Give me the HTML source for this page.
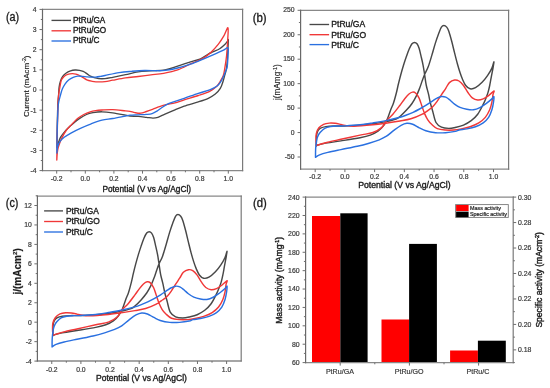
<!DOCTYPE html>
<html><head><meta charset="utf-8"><style>
html,body{margin:0;padding:0;background:#fff;}
body{width:550px;height:388px;overflow:hidden;}
svg{display:block;font-family:"Liberation Sans",sans-serif;filter:blur(0.35px);}
.t{stroke-width:0.35px;}
.k{stroke-width:0.2px;}
.h{stroke-width:0.4px;}
.m{stroke-width:0.15px;}
</style></head><body>
<svg width="550" height="388" viewBox="0 0 550 388">
<rect width="550" height="388" fill="#fff"/>
<line x1="41.9" y1="9.4" x2="243.2" y2="9.4" stroke="#888888" stroke-width="1.3"/>
<line x1="41.9" y1="170.6" x2="243.2" y2="170.6" stroke="#888888" stroke-width="1.3"/>
<line x1="42.5" y1="8.8" x2="42.5" y2="171.2" stroke="#686868" stroke-width="1.2"/>
<line x1="242.6" y1="8.8" x2="242.6" y2="171.2" stroke="#7a7a7a" stroke-width="1.2"/>
<line x1="56.70" y1="170.6" x2="56.70" y2="173.6" stroke="#6e6e6e" stroke-width="1"/>
<line x1="85.30" y1="170.6" x2="85.30" y2="173.6" stroke="#6e6e6e" stroke-width="1"/>
<line x1="113.90" y1="170.6" x2="113.90" y2="173.6" stroke="#6e6e6e" stroke-width="1"/>
<line x1="142.50" y1="170.6" x2="142.50" y2="173.6" stroke="#6e6e6e" stroke-width="1"/>
<line x1="171.10" y1="170.6" x2="171.10" y2="173.6" stroke="#6e6e6e" stroke-width="1"/>
<line x1="199.70" y1="170.6" x2="199.70" y2="173.6" stroke="#6e6e6e" stroke-width="1"/>
<line x1="228.30" y1="170.6" x2="228.30" y2="173.6" stroke="#6e6e6e" stroke-width="1"/>
<line x1="71.00" y1="170.6" x2="71.00" y2="172.29999999999998" stroke="#6e6e6e" stroke-width="1"/>
<line x1="99.60" y1="170.6" x2="99.60" y2="172.29999999999998" stroke="#6e6e6e" stroke-width="1"/>
<line x1="128.20" y1="170.6" x2="128.20" y2="172.29999999999998" stroke="#6e6e6e" stroke-width="1"/>
<line x1="156.80" y1="170.6" x2="156.80" y2="172.29999999999998" stroke="#6e6e6e" stroke-width="1"/>
<line x1="185.40" y1="170.6" x2="185.40" y2="172.29999999999998" stroke="#6e6e6e" stroke-width="1"/>
<line x1="214.00" y1="170.6" x2="214.00" y2="172.29999999999998" stroke="#6e6e6e" stroke-width="1"/>
<text x="56.70" y="180.9" font-size="6.8" text-anchor="middle" fill="#3a3a3a" stroke="#3a3a3a" class="k">-0.2</text>
<text x="85.30" y="180.9" font-size="6.8" text-anchor="middle" fill="#3a3a3a" stroke="#3a3a3a" class="k">0.0</text>
<text x="113.90" y="180.9" font-size="6.8" text-anchor="middle" fill="#3a3a3a" stroke="#3a3a3a" class="k">0.2</text>
<text x="142.50" y="180.9" font-size="6.8" text-anchor="middle" fill="#3a3a3a" stroke="#3a3a3a" class="k">0.4</text>
<text x="171.10" y="180.9" font-size="6.8" text-anchor="middle" fill="#3a3a3a" stroke="#3a3a3a" class="k">0.6</text>
<text x="199.70" y="180.9" font-size="6.8" text-anchor="middle" fill="#3a3a3a" stroke="#3a3a3a" class="k">0.8</text>
<text x="228.30" y="180.9" font-size="6.8" text-anchor="middle" fill="#3a3a3a" stroke="#3a3a3a" class="k">1.0</text>
<line x1="42.5" y1="9.40" x2="39.5" y2="9.40" stroke="#6e6e6e" stroke-width="1"/>
<line x1="42.5" y1="29.55" x2="39.5" y2="29.55" stroke="#6e6e6e" stroke-width="1"/>
<line x1="42.5" y1="49.70" x2="39.5" y2="49.70" stroke="#6e6e6e" stroke-width="1"/>
<line x1="42.5" y1="69.85" x2="39.5" y2="69.85" stroke="#6e6e6e" stroke-width="1"/>
<line x1="42.5" y1="90.00" x2="39.5" y2="90.00" stroke="#6e6e6e" stroke-width="1"/>
<line x1="42.5" y1="110.15" x2="39.5" y2="110.15" stroke="#6e6e6e" stroke-width="1"/>
<line x1="42.5" y1="130.30" x2="39.5" y2="130.30" stroke="#6e6e6e" stroke-width="1"/>
<line x1="42.5" y1="150.45" x2="39.5" y2="150.45" stroke="#6e6e6e" stroke-width="1"/>
<line x1="42.5" y1="170.60" x2="39.5" y2="170.60" stroke="#6e6e6e" stroke-width="1"/>
<line x1="42.5" y1="19.48" x2="40.8" y2="19.48" stroke="#6e6e6e" stroke-width="1"/>
<line x1="42.5" y1="39.62" x2="40.8" y2="39.62" stroke="#6e6e6e" stroke-width="1"/>
<line x1="42.5" y1="59.78" x2="40.8" y2="59.78" stroke="#6e6e6e" stroke-width="1"/>
<line x1="42.5" y1="79.92" x2="40.8" y2="79.92" stroke="#6e6e6e" stroke-width="1"/>
<line x1="42.5" y1="100.08" x2="40.8" y2="100.08" stroke="#6e6e6e" stroke-width="1"/>
<line x1="42.5" y1="120.22" x2="40.8" y2="120.22" stroke="#6e6e6e" stroke-width="1"/>
<line x1="42.5" y1="140.38" x2="40.8" y2="140.38" stroke="#6e6e6e" stroke-width="1"/>
<line x1="42.5" y1="160.52" x2="40.8" y2="160.52" stroke="#6e6e6e" stroke-width="1"/>
<text x="36.5" y="11.85" font-size="6.8" text-anchor="end" fill="#3a3a3a" stroke="#3a3a3a" class="k">4</text>
<text x="36.5" y="32.00" font-size="6.8" text-anchor="end" fill="#3a3a3a" stroke="#3a3a3a" class="k">3</text>
<text x="36.5" y="52.15" font-size="6.8" text-anchor="end" fill="#3a3a3a" stroke="#3a3a3a" class="k">2</text>
<text x="36.5" y="72.30" font-size="6.8" text-anchor="end" fill="#3a3a3a" stroke="#3a3a3a" class="k">1</text>
<text x="36.5" y="92.45" font-size="6.8" text-anchor="end" fill="#3a3a3a" stroke="#3a3a3a" class="k">0</text>
<text x="36.5" y="112.60" font-size="6.8" text-anchor="end" fill="#3a3a3a" stroke="#3a3a3a" class="k">-1</text>
<text x="36.5" y="132.75" font-size="6.8" text-anchor="end" fill="#3a3a3a" stroke="#3a3a3a" class="k">-2</text>
<text x="36.5" y="152.90" font-size="6.8" text-anchor="end" fill="#3a3a3a" stroke="#3a3a3a" class="k">-3</text>
<text x="36.5" y="173.05" font-size="6.8" text-anchor="end" fill="#3a3a3a" stroke="#3a3a3a" class="k">-4</text>
<text x="102.4" y="191.9" font-size="8.2" fill="#1c1c1c" stroke="#1c1c1c" class="t" textLength="88.6" lengthAdjust="spacingAndGlyphs">Potential (V vs Ag/AgCl)</text>
<text transform="translate(28.5,117) rotate(-90)" font-size="8" fill="#1c1c1c" stroke="#1c1c1c" class="m">Current (mAcm<tspan font-size="5.2" dy="-3">-2</tspan><tspan dy="3">)</tspan></text>
<text x="5.9" y="21.0" font-size="12.3" textLength="13.2" lengthAdjust="spacingAndGlyphs" fill="#1c1c1c" stroke="#1c1c1c" class="t">(a)</text>
<path d="M56.90,147.60 C56.97,143.83 57.15,132.10 57.30,125.00 C57.45,117.90 57.58,110.00 57.80,105.00 C58.02,100.00 58.38,97.95 58.60,95.00 C58.82,92.05 58.78,89.65 59.10,87.30 C59.42,84.95 59.90,82.72 60.50,80.90 C61.10,79.08 61.80,77.68 62.70,76.40 C63.60,75.12 64.60,74.12 65.90,73.20 C67.20,72.28 68.98,71.43 70.50,70.90 C72.02,70.37 73.50,70.10 75.00,70.00 C76.50,69.90 78.13,70.07 79.50,70.30 C80.87,70.53 81.98,70.85 83.20,71.40 C84.42,71.95 85.58,72.80 86.80,73.60 C88.02,74.40 89.28,75.52 90.50,76.20 C91.72,76.88 92.75,77.30 94.10,77.70 C95.45,78.10 96.78,78.45 98.60,78.60 C100.42,78.75 102.65,78.82 105.00,78.60 C107.35,78.38 109.28,77.95 112.70,77.30 C116.12,76.65 121.25,75.60 125.50,74.70 C129.75,73.80 134.12,72.53 138.20,71.90 C142.28,71.27 145.53,71.23 150.00,70.90 C154.47,70.57 160.38,70.70 165.00,69.90 C169.62,69.10 173.45,67.43 177.70,66.10 C181.95,64.77 186.68,63.12 190.50,61.90 C194.32,60.68 197.63,60.12 200.60,58.80 C203.57,57.48 206.17,55.18 208.30,54.00 C210.43,52.82 211.50,52.58 213.40,51.70 C215.30,50.82 217.80,49.90 219.70,48.70 C221.60,47.50 223.52,45.73 224.80,44.50 C226.08,43.27 226.82,42.07 227.40,41.30 C227.98,40.53 228.22,38.45 228.30,39.90 C228.38,41.35 228.08,46.32 227.90,50.00 C227.72,53.68 227.48,58.67 227.20,62.00 C226.92,65.33 226.57,67.95 226.20,70.00 C225.83,72.05 225.52,72.42 225.00,74.30 C224.48,76.18 223.88,78.95 223.10,81.30 C222.32,83.65 221.60,86.27 220.30,88.40 C219.00,90.53 217.30,92.45 215.30,94.10 C213.30,95.75 211.13,97.00 208.30,98.30 C205.47,99.60 202.32,100.60 198.30,101.90 C194.28,103.20 188.08,104.77 184.20,106.10 C180.32,107.43 177.33,108.93 175.00,109.90 C172.67,110.87 171.97,111.15 170.20,111.90 C168.43,112.65 166.45,113.50 164.40,114.40 C162.35,115.30 159.80,116.68 157.90,117.30 C156.00,117.92 154.92,118.10 153.00,118.10 C151.08,118.10 148.87,117.58 146.40,117.30 C143.93,117.02 140.93,116.62 138.20,116.40 C135.47,116.18 132.12,116.22 130.00,116.00 C127.88,115.78 128.38,115.63 125.50,115.10 C122.62,114.57 116.62,113.35 112.70,112.80 C108.78,112.25 105.30,111.82 102.00,111.80 C98.70,111.78 95.48,112.25 92.90,112.70 C90.32,113.15 88.77,113.52 86.50,114.50 C84.23,115.48 81.42,117.18 79.30,118.60 C77.18,120.02 75.27,121.82 73.80,123.00 C72.33,124.18 71.88,124.42 70.50,125.70 C69.12,126.98 67.15,128.78 65.50,130.70 C63.85,132.62 61.87,134.90 60.60,137.20 C59.33,139.50 58.52,142.77 57.90,144.50 C57.28,146.23 57.07,147.08 56.90,147.60" fill="none" stroke="#484848" stroke-width="1.35" stroke-linejoin="round" stroke-linecap="round"/>
<path d="M56.80,160.00 C56.85,156.67 56.97,147.00 57.10,140.00 C57.23,133.00 57.45,124.00 57.60,118.00 C57.75,112.00 57.83,107.83 58.00,104.00 C58.17,100.17 58.27,97.93 58.60,95.00 C58.93,92.07 59.53,88.90 60.00,86.40 C60.47,83.90 60.72,81.67 61.40,80.00 C62.08,78.33 63.05,77.33 64.10,76.40 C65.15,75.47 66.33,74.87 67.70,74.40 C69.07,73.93 70.93,73.65 72.30,73.60 C73.67,73.55 74.70,73.78 75.90,74.10 C77.10,74.42 78.28,74.90 79.50,75.50 C80.72,76.10 81.98,76.98 83.20,77.70 C84.42,78.42 85.43,79.23 86.80,79.80 C88.17,80.37 89.88,80.77 91.40,81.10 C92.92,81.43 93.63,81.72 95.90,81.80 C98.17,81.88 102.20,81.87 105.00,81.60 C107.80,81.33 109.28,80.82 112.70,80.20 C116.12,79.58 121.25,78.52 125.50,77.90 C129.75,77.28 133.97,77.00 138.20,76.50 C142.43,76.00 146.67,75.43 150.90,74.90 C155.13,74.37 159.13,74.13 163.60,73.30 C168.07,72.47 173.22,71.47 177.70,69.90 C182.18,68.33 187.27,65.37 190.50,63.90 C193.73,62.43 194.82,62.15 197.10,61.10 C199.38,60.05 201.83,59.13 204.20,57.60 C206.57,56.07 208.93,54.15 211.30,51.90 C213.67,49.65 216.28,46.82 218.40,44.10 C220.52,41.38 222.40,38.32 224.00,35.60 C225.60,32.88 227.40,26.85 228.00,27.80 C228.60,28.75 227.83,36.68 227.60,41.30 C227.37,45.92 227.07,51.02 226.60,55.50 C226.13,59.98 225.35,64.87 224.80,68.20 C224.25,71.53 224.05,73.32 223.30,75.50 C222.55,77.68 221.38,79.50 220.30,81.30 C219.22,83.10 218.57,84.63 216.80,86.30 C215.03,87.97 212.78,89.77 209.70,91.30 C206.62,92.83 202.55,94.08 198.30,95.50 C194.05,96.92 188.08,98.57 184.20,99.80 C180.32,101.03 178.02,102.10 175.00,102.90 C171.98,103.70 168.68,103.98 166.10,104.60 C163.52,105.22 161.68,105.85 159.50,106.60 C157.32,107.35 155.18,108.28 153.00,109.10 C150.82,109.92 148.45,110.82 146.40,111.50 C144.35,112.18 142.62,113.02 140.70,113.20 C138.78,113.38 136.68,112.92 134.90,112.60 C133.12,112.28 131.57,111.58 130.00,111.30 C128.43,111.02 128.38,111.18 125.50,110.90 C122.62,110.62 116.62,109.75 112.70,109.60 C108.78,109.45 104.85,109.83 102.00,110.00 C99.15,110.17 97.57,110.30 95.60,110.60 C93.63,110.90 92.17,111.15 90.20,111.80 C88.23,112.45 85.92,113.37 83.80,114.50 C81.68,115.63 79.47,117.00 77.50,118.60 C75.53,120.20 73.83,122.20 72.00,124.10 C70.17,126.00 68.25,127.58 66.50,130.00 C64.75,132.42 62.88,135.67 61.50,138.60 C60.12,141.53 58.92,145.03 58.20,147.60 C57.48,150.17 57.43,151.93 57.20,154.00 C56.97,156.07 56.87,159.00 56.80,160.00" fill="none" stroke="#f03838" stroke-width="1.35" stroke-linejoin="round" stroke-linecap="round"/>
<path d="M56.90,153.00 C56.93,150.00 56.98,140.83 57.10,135.00 C57.22,129.17 57.38,123.17 57.60,118.00 C57.82,112.83 57.92,107.83 58.40,104.00 C58.88,100.17 59.85,97.48 60.50,95.00 C61.15,92.52 61.55,90.92 62.30,89.10 C63.05,87.28 63.95,85.62 65.00,84.10 C66.05,82.58 67.23,81.13 68.60,80.00 C69.97,78.87 71.68,77.93 73.20,77.30 C74.72,76.67 76.18,76.35 77.70,76.20 C79.22,76.05 80.78,76.30 82.30,76.40 C83.82,76.50 85.28,76.68 86.80,76.80 C88.32,76.92 89.88,77.05 91.40,77.10 C92.92,77.15 94.38,77.22 95.90,77.10 C97.42,76.98 98.98,76.67 100.50,76.40 C102.02,76.13 101.90,76.13 105.00,75.50 C108.10,74.87 114.63,73.30 119.10,72.60 C123.57,71.90 127.57,71.65 131.80,71.30 C136.03,70.95 140.25,70.60 144.50,70.50 C148.75,70.40 153.88,70.72 157.30,70.70 C160.72,70.68 161.60,70.85 165.00,70.40 C168.40,69.95 173.45,69.03 177.70,68.00 C181.95,66.97 186.25,65.68 190.50,64.20 C194.75,62.72 198.97,60.85 203.20,59.10 C207.43,57.35 212.52,55.18 215.90,53.70 C219.28,52.22 221.48,51.17 223.50,50.20 C225.52,49.23 227.25,47.02 228.00,47.90 C228.75,48.78 228.13,52.35 228.00,55.50 C227.87,58.65 227.65,64.05 227.20,66.80 C226.75,69.55 225.87,70.52 225.30,72.00 C224.73,73.48 224.52,74.15 223.80,75.70 C223.08,77.25 222.17,79.53 221.00,81.30 C219.83,83.07 218.68,84.88 216.80,86.30 C214.92,87.72 212.78,88.62 209.70,89.80 C206.62,90.98 202.55,91.98 198.30,93.40 C194.05,94.82 188.08,96.98 184.20,98.30 C180.32,99.62 177.62,100.40 175.00,101.30 C172.38,102.20 170.53,102.75 168.50,103.70 C166.47,104.65 164.72,105.77 162.80,107.00 C160.88,108.23 158.78,110.00 157.00,111.10 C155.22,112.20 153.87,113.05 152.10,113.60 C150.33,114.15 148.72,114.20 146.40,114.40 C144.08,114.60 140.93,114.67 138.20,114.80 C135.47,114.93 132.12,115.00 130.00,115.20 C127.88,115.40 128.38,115.45 125.50,116.00 C122.62,116.55 116.62,117.80 112.70,118.50 C108.78,119.20 105.58,119.32 102.00,120.20 C98.42,121.08 94.80,122.45 91.20,123.80 C87.60,125.15 83.70,126.80 80.40,128.30 C77.10,129.80 74.10,131.30 71.40,132.80 C68.70,134.30 66.15,135.80 64.20,137.30 C62.25,138.80 60.80,140.27 59.70,141.80 C58.60,143.33 58.07,144.63 57.60,146.50 C57.13,148.37 57.02,151.92 56.90,153.00" fill="none" stroke="#2a70e0" stroke-width="1.35" stroke-linejoin="round" stroke-linecap="round"/>
<line x1="51.5" y1="20.4" x2="71" y2="20.4" stroke="#484848" stroke-width="1.35"/>
<text x="73" y="22.9" font-size="8.2" fill="#1c1c1c" stroke="#1c1c1c" class="t">PtRu/GA</text>
<line x1="51.5" y1="30.8" x2="71" y2="30.8" stroke="#f03838" stroke-width="1.35"/>
<text x="73" y="33.1" font-size="8.2" fill="#1c1c1c" stroke="#1c1c1c" class="t">PtRu/GO</text>
<line x1="51.5" y1="41.0" x2="71" y2="41.0" stroke="#2a70e0" stroke-width="1.35"/>
<text x="73" y="43.4" font-size="8.2" fill="#1c1c1c" stroke="#1c1c1c" class="t">PtRu/C</text>
<line x1="300.0" y1="10.3" x2="509.20000000000005" y2="10.3" stroke="#888888" stroke-width="1.3"/>
<line x1="300.0" y1="169.1" x2="509.20000000000005" y2="169.1" stroke="#888888" stroke-width="1.3"/>
<line x1="300.6" y1="9.700000000000001" x2="300.6" y2="169.7" stroke="#686868" stroke-width="1.2"/>
<line x1="508.6" y1="9.700000000000001" x2="508.6" y2="169.7" stroke="#7a7a7a" stroke-width="1.2"/>
<line x1="315.18" y1="169.1" x2="315.18" y2="172.1" stroke="#6e6e6e" stroke-width="1"/>
<line x1="344.90" y1="169.1" x2="344.90" y2="172.1" stroke="#6e6e6e" stroke-width="1"/>
<line x1="374.62" y1="169.1" x2="374.62" y2="172.1" stroke="#6e6e6e" stroke-width="1"/>
<line x1="404.34" y1="169.1" x2="404.34" y2="172.1" stroke="#6e6e6e" stroke-width="1"/>
<line x1="434.06" y1="169.1" x2="434.06" y2="172.1" stroke="#6e6e6e" stroke-width="1"/>
<line x1="463.78" y1="169.1" x2="463.78" y2="172.1" stroke="#6e6e6e" stroke-width="1"/>
<line x1="493.50" y1="169.1" x2="493.50" y2="172.1" stroke="#6e6e6e" stroke-width="1"/>
<line x1="330.04" y1="169.1" x2="330.04" y2="170.79999999999998" stroke="#6e6e6e" stroke-width="1"/>
<line x1="359.76" y1="169.1" x2="359.76" y2="170.79999999999998" stroke="#6e6e6e" stroke-width="1"/>
<line x1="389.48" y1="169.1" x2="389.48" y2="170.79999999999998" stroke="#6e6e6e" stroke-width="1"/>
<line x1="419.20" y1="169.1" x2="419.20" y2="170.79999999999998" stroke="#6e6e6e" stroke-width="1"/>
<line x1="448.92" y1="169.1" x2="448.92" y2="170.79999999999998" stroke="#6e6e6e" stroke-width="1"/>
<line x1="478.64" y1="169.1" x2="478.64" y2="170.79999999999998" stroke="#6e6e6e" stroke-width="1"/>
<text x="315.18" y="179.4" font-size="6.8" text-anchor="middle" fill="#3a3a3a" stroke="#3a3a3a" class="k">-0.2</text>
<text x="344.90" y="179.4" font-size="6.8" text-anchor="middle" fill="#3a3a3a" stroke="#3a3a3a" class="k">0.0</text>
<text x="374.62" y="179.4" font-size="6.8" text-anchor="middle" fill="#3a3a3a" stroke="#3a3a3a" class="k">0.2</text>
<text x="404.34" y="179.4" font-size="6.8" text-anchor="middle" fill="#3a3a3a" stroke="#3a3a3a" class="k">0.4</text>
<text x="434.06" y="179.4" font-size="6.8" text-anchor="middle" fill="#3a3a3a" stroke="#3a3a3a" class="k">0.6</text>
<text x="463.78" y="179.4" font-size="6.8" text-anchor="middle" fill="#3a3a3a" stroke="#3a3a3a" class="k">0.8</text>
<text x="493.50" y="179.4" font-size="6.8" text-anchor="middle" fill="#3a3a3a" stroke="#3a3a3a" class="k">1.0</text>
<line x1="300.6" y1="10.30" x2="297.6" y2="10.30" stroke="#6e6e6e" stroke-width="1"/>
<line x1="300.6" y1="34.75" x2="297.6" y2="34.75" stroke="#6e6e6e" stroke-width="1"/>
<line x1="300.6" y1="59.20" x2="297.6" y2="59.20" stroke="#6e6e6e" stroke-width="1"/>
<line x1="300.6" y1="83.65" x2="297.6" y2="83.65" stroke="#6e6e6e" stroke-width="1"/>
<line x1="300.6" y1="108.10" x2="297.6" y2="108.10" stroke="#6e6e6e" stroke-width="1"/>
<line x1="300.6" y1="132.55" x2="297.6" y2="132.55" stroke="#6e6e6e" stroke-width="1"/>
<line x1="300.6" y1="157.00" x2="297.6" y2="157.00" stroke="#6e6e6e" stroke-width="1"/>
<line x1="300.6" y1="22.53" x2="298.90000000000003" y2="22.53" stroke="#6e6e6e" stroke-width="1"/>
<line x1="300.6" y1="46.98" x2="298.90000000000003" y2="46.98" stroke="#6e6e6e" stroke-width="1"/>
<line x1="300.6" y1="71.43" x2="298.90000000000003" y2="71.43" stroke="#6e6e6e" stroke-width="1"/>
<line x1="300.6" y1="95.88" x2="298.90000000000003" y2="95.88" stroke="#6e6e6e" stroke-width="1"/>
<line x1="300.6" y1="120.33" x2="298.90000000000003" y2="120.33" stroke="#6e6e6e" stroke-width="1"/>
<line x1="300.6" y1="144.78" x2="298.90000000000003" y2="144.78" stroke="#6e6e6e" stroke-width="1"/>
<text x="294.6" y="12.40" font-size="6.8" text-anchor="end" fill="#3a3a3a" stroke="#3a3a3a" class="k">250</text>
<text x="294.6" y="36.85" font-size="6.8" text-anchor="end" fill="#3a3a3a" stroke="#3a3a3a" class="k">200</text>
<text x="294.6" y="61.30" font-size="6.8" text-anchor="end" fill="#3a3a3a" stroke="#3a3a3a" class="k">150</text>
<text x="294.6" y="85.75" font-size="6.8" text-anchor="end" fill="#3a3a3a" stroke="#3a3a3a" class="k">100</text>
<text x="294.6" y="110.20" font-size="6.8" text-anchor="end" fill="#3a3a3a" stroke="#3a3a3a" class="k">50</text>
<text x="294.6" y="134.65" font-size="6.8" text-anchor="end" fill="#3a3a3a" stroke="#3a3a3a" class="k">0</text>
<text x="294.6" y="159.10" font-size="6.8" text-anchor="end" fill="#3a3a3a" stroke="#3a3a3a" class="k">-50</text>
<text x="358.2" y="188.0" font-size="8.2" fill="#1c1c1c" stroke="#1c1c1c" class="t" textLength="92.5" lengthAdjust="spacingAndGlyphs">Potential (V vs Ag/AgCl)</text>
<text transform="translate(280,100) rotate(-90)" font-size="8.2" fill="#1c1c1c" stroke="#1c1c1c" class="m">j(mAmg<tspan font-size="5.3" dy="-3">-1</tspan><tspan dy="3">)</tspan></text>
<text x="252.7" y="21.5" font-size="12.3" textLength="14" lengthAdjust="spacingAndGlyphs" fill="#1c1c1c" stroke="#1c1c1c" class="t">(b)</text>
<path d="M316.30,146.00 C316.32,144.70 316.30,140.28 316.40,138.20 C316.50,136.12 316.58,134.83 316.90,133.50 C317.22,132.17 317.68,131.10 318.30,130.20 C318.92,129.30 319.33,128.70 320.60,128.10 C321.87,127.50 323.67,126.95 325.90,126.60 C328.13,126.25 330.95,126.10 334.00,126.00 C337.05,125.90 340.32,126.10 344.20,126.00 C348.08,125.90 352.52,125.77 357.30,125.40 C362.08,125.03 368.15,124.43 372.90,123.80 C377.65,123.17 381.93,122.40 385.80,121.60 C389.67,120.80 393.73,119.85 396.10,119.00 C398.47,118.15 398.27,117.98 400.00,116.50 C401.73,115.02 404.50,112.27 406.50,110.10 C408.50,107.93 410.35,105.87 412.00,103.50 C413.65,101.13 415.13,98.43 416.40,95.90 C417.67,93.37 418.62,90.87 419.60,88.30 C420.58,85.73 421.43,82.88 422.30,80.50 C423.17,78.12 423.82,76.28 424.80,74.00 C425.78,71.72 427.03,69.90 428.20,66.80 C429.37,63.70 430.62,59.30 431.80,55.40 C432.98,51.50 434.15,47.05 435.30,43.40 C436.45,39.75 437.68,36.22 438.70,33.50 C439.72,30.78 440.53,28.45 441.40,27.10 C442.27,25.75 443.02,25.40 443.90,25.40 C444.78,25.40 445.88,26.12 446.70,27.10 C447.52,28.08 447.97,28.93 448.80,31.30 C449.63,33.67 450.75,37.75 451.70,41.30 C452.65,44.85 453.57,48.90 454.50,52.60 C455.43,56.30 456.38,60.18 457.30,63.50 C458.22,66.82 459.15,69.92 460.00,72.50 C460.85,75.08 461.45,76.83 462.40,79.00 C463.35,81.17 464.42,83.87 465.70,85.50 C466.98,87.13 468.47,88.43 470.10,88.80 C471.73,89.17 473.50,88.78 475.50,87.70 C477.50,86.62 480.10,84.30 482.10,82.30 C484.10,80.30 485.87,78.07 487.50,75.70 C489.13,73.33 490.83,70.42 491.90,68.10 C492.97,65.78 493.72,61.80 493.90,61.80 C494.08,61.80 493.43,65.60 493.00,68.10 C492.57,70.60 491.85,73.90 491.30,76.80 C490.75,79.70 490.23,82.95 489.70,85.50 C489.17,88.05 488.65,90.18 488.10,92.10 C487.55,94.02 487.22,94.95 486.40,97.00 C485.58,99.05 484.65,101.53 483.20,104.40 C481.75,107.27 479.70,111.48 477.70,114.20 C475.70,116.92 473.57,118.88 471.20,120.70 C468.83,122.52 466.05,124.00 463.50,125.10 C460.95,126.20 458.37,126.75 455.90,127.30 C453.43,127.85 451.10,128.42 448.70,128.40 C446.30,128.38 443.62,128.18 441.50,127.20 C439.38,126.22 437.47,125.17 436.00,122.50 C434.53,119.83 433.62,114.37 432.70,111.20 C431.78,108.03 431.22,106.42 430.50,103.50 C429.78,100.58 429.12,96.78 428.40,93.70 C427.68,90.62 426.85,88.32 426.20,85.00 C425.55,81.68 425.02,77.08 424.50,73.80 C423.98,70.52 423.65,68.13 423.10,65.30 C422.55,62.47 421.87,59.63 421.20,56.80 C420.53,53.97 419.80,50.47 419.10,48.30 C418.40,46.13 417.75,44.78 417.00,43.80 C416.25,42.82 415.43,42.40 414.60,42.40 C413.77,42.40 412.90,42.70 412.00,43.80 C411.10,44.90 410.15,46.83 409.20,49.00 C408.25,51.17 407.25,54.08 406.30,56.80 C405.35,59.52 404.43,62.27 403.50,65.30 C402.57,68.33 401.55,71.88 400.70,75.00 C399.85,78.12 399.12,81.05 398.40,84.00 C397.68,86.95 397.22,89.53 396.40,92.70 C395.58,95.87 394.42,100.23 393.50,103.00 C392.58,105.77 391.97,106.53 390.90,109.30 C389.83,112.07 388.38,116.80 387.10,119.60 C385.82,122.40 384.72,124.17 383.20,126.10 C381.68,128.03 380.15,129.70 378.00,131.20 C375.85,132.70 373.30,134.02 370.30,135.10 C367.30,136.18 364.90,136.73 360.00,137.70 C355.10,138.67 346.82,139.95 340.90,140.90 C334.98,141.85 328.32,142.72 324.50,143.40 C320.68,144.08 319.37,144.57 318.00,145.00 C316.63,145.43 316.58,145.83 316.30,146.00" fill="none" stroke="#484848" stroke-width="1.45" stroke-linejoin="round" stroke-linecap="round"/>
<path d="M316.40,145.50 C316.33,144.58 316.02,141.98 316.00,140.00 C315.98,138.02 315.82,135.63 316.30,133.60 C316.78,131.57 317.68,129.35 318.90,127.80 C320.12,126.25 321.87,125.08 323.60,124.30 C325.33,123.52 327.38,123.27 329.30,123.10 C331.22,122.93 333.15,123.07 335.10,123.30 C337.05,123.53 339.35,124.15 341.00,124.50 C342.65,124.85 342.83,125.12 345.00,125.40 C347.17,125.68 349.35,126.30 354.00,126.20 C358.65,126.10 367.60,125.30 372.90,124.80 C378.20,124.30 381.28,123.83 385.80,123.20 C390.32,122.57 395.82,121.73 400.00,121.00 C404.18,120.27 407.27,119.90 410.90,118.80 C414.53,117.70 418.88,115.85 421.80,114.40 C424.72,112.95 426.58,111.37 428.40,110.10 C430.22,108.83 431.25,108.25 432.70,106.80 C434.15,105.35 435.65,103.40 437.10,101.40 C438.55,99.40 439.95,96.98 441.40,94.80 C442.85,92.62 444.47,90.33 445.80,88.30 C447.13,86.27 447.93,83.98 449.40,82.60 C450.87,81.22 453.00,80.27 454.60,80.00 C456.20,79.73 457.52,80.08 459.00,81.00 C460.48,81.92 462.02,83.58 463.50,85.50 C464.98,87.42 466.43,90.45 467.90,92.50 C469.37,94.55 470.67,96.55 472.30,97.80 C473.93,99.05 475.88,99.82 477.70,100.00 C479.52,100.18 481.38,99.63 483.20,98.90 C485.02,98.17 486.82,96.92 488.60,95.60 C490.38,94.28 493.17,91.18 493.90,91.00 C494.63,90.82 493.33,92.63 493.00,94.50 C492.67,96.37 492.45,99.65 491.90,102.20 C491.35,104.75 490.80,107.27 489.70,109.80 C488.60,112.33 487.12,115.22 485.30,117.40 C483.48,119.58 481.33,121.35 478.80,122.90 C476.27,124.45 473.00,125.70 470.10,126.70 C467.20,127.70 464.13,128.35 461.40,128.90 C458.67,129.45 456.35,129.82 453.70,130.00 C451.05,130.18 448.23,130.23 445.50,130.00 C442.77,129.77 439.62,129.55 437.30,128.60 C434.98,127.65 433.18,125.75 431.60,124.30 C430.02,122.85 428.98,121.72 427.80,119.90 C426.62,118.08 425.50,115.77 424.50,113.40 C423.50,111.03 422.70,108.25 421.80,105.70 C420.90,103.15 420.10,100.18 419.10,98.10 C418.10,96.02 416.90,94.20 415.80,93.20 C414.70,92.20 413.68,91.92 412.50,92.10 C411.32,92.28 410.05,93.12 408.70,94.30 C407.35,95.48 405.85,97.38 404.40,99.20 C402.95,101.02 401.88,102.73 400.00,105.20 C398.12,107.67 395.35,111.43 393.10,114.00 C390.85,116.57 388.37,118.37 386.50,120.60 C384.63,122.83 384.17,125.42 381.90,127.40 C379.63,129.38 376.55,131.22 372.90,132.50 C369.25,133.78 365.33,133.97 360.00,135.10 C354.67,136.23 346.27,138.12 340.90,139.30 C335.53,140.48 331.35,141.33 327.80,142.20 C324.25,143.07 321.50,143.95 319.60,144.50 C317.70,145.05 316.93,145.33 316.40,145.50" fill="none" stroke="#f03838" stroke-width="1.45" stroke-linejoin="round" stroke-linecap="round"/>
<path d="M315.50,157.30 C315.52,156.08 315.52,152.03 315.60,150.00 C315.68,147.97 315.77,147.00 316.00,145.10 C316.23,143.20 316.60,140.28 317.00,138.60 C317.40,136.92 317.85,136.07 318.40,135.00 C318.95,133.93 319.25,133.32 320.30,132.20 C321.35,131.08 323.00,129.23 324.70,128.30 C326.40,127.37 328.37,126.98 330.50,126.60 C332.63,126.22 335.08,126.12 337.50,126.00 C339.92,125.88 341.25,126.10 345.00,125.90 C348.75,125.70 355.35,125.30 360.00,124.80 C364.65,124.30 368.60,123.60 372.90,122.90 C377.20,122.20 381.28,121.55 385.80,120.60 C390.32,119.65 396.55,118.13 400.00,117.20 C403.45,116.27 404.32,115.82 406.50,115.00 C408.68,114.18 410.92,113.30 413.10,112.30 C415.28,111.30 417.42,110.18 419.60,109.00 C421.78,107.82 424.02,106.57 426.20,105.20 C428.38,103.83 430.88,101.98 432.70,100.80 C434.52,99.62 435.65,98.82 437.10,98.10 C438.55,97.38 439.95,96.65 441.40,96.50 C442.85,96.35 444.33,96.57 445.80,97.20 C447.27,97.83 448.75,99.15 450.20,100.30 C451.65,101.45 452.87,102.92 454.50,104.10 C456.13,105.28 457.95,106.53 460.00,107.40 C462.05,108.27 464.57,108.90 466.80,109.30 C469.03,109.70 471.22,110.08 473.40,109.80 C475.58,109.52 477.73,108.68 479.90,107.60 C482.07,106.52 484.40,104.75 486.40,103.30 C488.40,101.85 490.65,100.03 491.90,98.90 C493.15,97.77 493.63,95.95 493.90,96.50 C494.17,97.05 493.83,99.98 493.50,102.20 C493.17,104.42 492.72,107.27 491.90,109.80 C491.08,112.33 490.05,115.22 488.60,117.40 C487.15,119.58 485.38,121.35 483.20,122.90 C481.02,124.45 478.23,125.70 475.50,126.70 C472.77,127.70 469.52,128.35 466.80,128.90 C464.08,129.45 461.12,129.58 459.20,130.00 C457.28,130.42 457.58,130.95 455.30,131.40 C453.02,131.85 448.78,132.48 445.50,132.70 C442.22,132.92 438.88,133.02 435.60,132.70 C432.32,132.38 428.52,131.62 425.80,130.80 C423.08,129.98 421.48,128.88 419.30,127.80 C417.12,126.72 414.77,125.05 412.70,124.30 C410.63,123.55 408.83,123.13 406.90,123.30 C404.97,123.47 403.28,124.12 401.10,125.30 C398.92,126.48 396.23,128.58 393.80,130.40 C391.37,132.22 388.92,134.63 386.50,136.20 C384.08,137.77 382.20,138.63 379.30,139.80 C376.40,140.97 372.77,142.12 369.10,143.20 C365.43,144.28 362.00,145.23 357.30,146.30 C352.60,147.37 345.82,148.58 340.90,149.60 C335.98,150.62 331.35,151.53 327.80,152.40 C324.25,153.27 321.65,153.98 319.60,154.80 C317.55,155.62 316.18,156.88 315.50,157.30" fill="none" stroke="#2a70e0" stroke-width="1.45" stroke-linejoin="round" stroke-linecap="round"/>
<line x1="309.5" y1="24.5" x2="329.1" y2="24.5" stroke="#484848" stroke-width="1.35"/>
<text x="331.3" y="27.4" font-size="8.6" fill="#1c1c1c" stroke="#1c1c1c" class="t">PtRu/GA</text>
<line x1="309.5" y1="34.7" x2="329.1" y2="34.7" stroke="#f03838" stroke-width="1.35"/>
<text x="331.3" y="37.6" font-size="8.6" fill="#1c1c1c" stroke="#1c1c1c" class="t">PtRu/GO</text>
<line x1="309.5" y1="44.6" x2="329.1" y2="44.6" stroke="#2a70e0" stroke-width="1.35"/>
<text x="331.3" y="47.5" font-size="8.6" fill="#1c1c1c" stroke="#1c1c1c" class="t">PtRu/C</text>
<line x1="36.8" y1="196.1" x2="241.79999999999998" y2="196.1" stroke="#888888" stroke-width="1.3"/>
<line x1="36.8" y1="361.0" x2="241.79999999999998" y2="361.0" stroke="#888888" stroke-width="1.3"/>
<line x1="37.4" y1="195.5" x2="37.4" y2="361.6" stroke="#686868" stroke-width="1.2"/>
<line x1="241.2" y1="195.5" x2="241.2" y2="361.6" stroke="#7a7a7a" stroke-width="1.2"/>
<line x1="51.76" y1="361.0" x2="51.76" y2="364.0" stroke="#6e6e6e" stroke-width="1"/>
<line x1="80.90" y1="361.0" x2="80.90" y2="364.0" stroke="#6e6e6e" stroke-width="1"/>
<line x1="110.04" y1="361.0" x2="110.04" y2="364.0" stroke="#6e6e6e" stroke-width="1"/>
<line x1="139.18" y1="361.0" x2="139.18" y2="364.0" stroke="#6e6e6e" stroke-width="1"/>
<line x1="168.32" y1="361.0" x2="168.32" y2="364.0" stroke="#6e6e6e" stroke-width="1"/>
<line x1="197.46" y1="361.0" x2="197.46" y2="364.0" stroke="#6e6e6e" stroke-width="1"/>
<line x1="226.60" y1="361.0" x2="226.60" y2="364.0" stroke="#6e6e6e" stroke-width="1"/>
<line x1="66.33" y1="361.0" x2="66.33" y2="362.7" stroke="#6e6e6e" stroke-width="1"/>
<line x1="95.47" y1="361.0" x2="95.47" y2="362.7" stroke="#6e6e6e" stroke-width="1"/>
<line x1="124.61" y1="361.0" x2="124.61" y2="362.7" stroke="#6e6e6e" stroke-width="1"/>
<line x1="153.75" y1="361.0" x2="153.75" y2="362.7" stroke="#6e6e6e" stroke-width="1"/>
<line x1="182.89" y1="361.0" x2="182.89" y2="362.7" stroke="#6e6e6e" stroke-width="1"/>
<line x1="212.03" y1="361.0" x2="212.03" y2="362.7" stroke="#6e6e6e" stroke-width="1"/>
<text x="51.76" y="371.8" font-size="6.8" text-anchor="middle" fill="#3a3a3a" stroke="#3a3a3a" class="k">-0.2</text>
<text x="80.90" y="371.8" font-size="6.8" text-anchor="middle" fill="#3a3a3a" stroke="#3a3a3a" class="k">0.0</text>
<text x="110.04" y="371.8" font-size="6.8" text-anchor="middle" fill="#3a3a3a" stroke="#3a3a3a" class="k">0.2</text>
<text x="139.18" y="371.8" font-size="6.8" text-anchor="middle" fill="#3a3a3a" stroke="#3a3a3a" class="k">0.4</text>
<text x="168.32" y="371.8" font-size="6.8" text-anchor="middle" fill="#3a3a3a" stroke="#3a3a3a" class="k">0.6</text>
<text x="197.46" y="371.8" font-size="6.8" text-anchor="middle" fill="#3a3a3a" stroke="#3a3a3a" class="k">0.8</text>
<text x="226.60" y="371.8" font-size="6.8" text-anchor="middle" fill="#3a3a3a" stroke="#3a3a3a" class="k">1.0</text>
<line x1="37.4" y1="205.50" x2="34.4" y2="205.50" stroke="#6e6e6e" stroke-width="1"/>
<line x1="37.4" y1="224.95" x2="34.4" y2="224.95" stroke="#6e6e6e" stroke-width="1"/>
<line x1="37.4" y1="244.40" x2="34.4" y2="244.40" stroke="#6e6e6e" stroke-width="1"/>
<line x1="37.4" y1="263.85" x2="34.4" y2="263.85" stroke="#6e6e6e" stroke-width="1"/>
<line x1="37.4" y1="283.30" x2="34.4" y2="283.30" stroke="#6e6e6e" stroke-width="1"/>
<line x1="37.4" y1="302.75" x2="34.4" y2="302.75" stroke="#6e6e6e" stroke-width="1"/>
<line x1="37.4" y1="322.20" x2="34.4" y2="322.20" stroke="#6e6e6e" stroke-width="1"/>
<line x1="37.4" y1="341.65" x2="34.4" y2="341.65" stroke="#6e6e6e" stroke-width="1"/>
<line x1="37.4" y1="361.10" x2="34.4" y2="361.10" stroke="#6e6e6e" stroke-width="1"/>
<line x1="37.4" y1="195.77" x2="35.699999999999996" y2="195.77" stroke="#6e6e6e" stroke-width="1"/>
<line x1="37.4" y1="215.22" x2="35.699999999999996" y2="215.22" stroke="#6e6e6e" stroke-width="1"/>
<line x1="37.4" y1="234.68" x2="35.699999999999996" y2="234.68" stroke="#6e6e6e" stroke-width="1"/>
<line x1="37.4" y1="254.12" x2="35.699999999999996" y2="254.12" stroke="#6e6e6e" stroke-width="1"/>
<line x1="37.4" y1="273.57" x2="35.699999999999996" y2="273.57" stroke="#6e6e6e" stroke-width="1"/>
<line x1="37.4" y1="293.02" x2="35.699999999999996" y2="293.02" stroke="#6e6e6e" stroke-width="1"/>
<line x1="37.4" y1="312.47" x2="35.699999999999996" y2="312.47" stroke="#6e6e6e" stroke-width="1"/>
<line x1="37.4" y1="331.93" x2="35.699999999999996" y2="331.93" stroke="#6e6e6e" stroke-width="1"/>
<line x1="37.4" y1="351.38" x2="35.699999999999996" y2="351.38" stroke="#6e6e6e" stroke-width="1"/>
<text x="31.8" y="207.95" font-size="6.8" text-anchor="end" fill="#3a3a3a" stroke="#3a3a3a" class="k">12</text>
<text x="31.8" y="227.40" font-size="6.8" text-anchor="end" fill="#3a3a3a" stroke="#3a3a3a" class="k">10</text>
<text x="31.8" y="246.85" font-size="6.8" text-anchor="end" fill="#3a3a3a" stroke="#3a3a3a" class="k">8</text>
<text x="31.8" y="266.30" font-size="6.8" text-anchor="end" fill="#3a3a3a" stroke="#3a3a3a" class="k">6</text>
<text x="31.8" y="285.75" font-size="6.8" text-anchor="end" fill="#3a3a3a" stroke="#3a3a3a" class="k">4</text>
<text x="31.8" y="305.20" font-size="6.8" text-anchor="end" fill="#3a3a3a" stroke="#3a3a3a" class="k">2</text>
<text x="31.8" y="324.65" font-size="6.8" text-anchor="end" fill="#3a3a3a" stroke="#3a3a3a" class="k">0</text>
<text x="31.8" y="344.10" font-size="6.8" text-anchor="end" fill="#3a3a3a" stroke="#3a3a3a" class="k">-2</text>
<text x="31.8" y="363.55" font-size="6.8" text-anchor="end" fill="#3a3a3a" stroke="#3a3a3a" class="k">-4</text>
<text x="96.0" y="381.1" font-size="8.2" fill="#1c1c1c" stroke="#1c1c1c" class="t" textLength="90.9" lengthAdjust="spacingAndGlyphs">Potential (V vs Ag/AgCl)</text>
<text transform="translate(20.6,294.6) rotate(-90)" font-size="10.05" font-weight="bold" fill="#1e1e1e" stroke="#1e1e1e" class="k">j/(mAcm<tspan font-size="6.2" dy="-3.4">2</tspan><tspan dy="3.4">)</tspan></text>
<text x="5.8" y="207.1" font-size="12.2" textLength="12.6" lengthAdjust="spacingAndGlyphs" fill="#1c1c1c" stroke="#1c1c1c" class="t">(c)</text>
<path d="M52.86,335.71 C52.87,334.40 52.86,329.97 52.96,327.87 C53.05,325.78 53.14,324.49 53.45,323.15 C53.76,321.81 54.21,320.74 54.82,319.84 C55.42,318.94 55.83,318.33 57.07,317.73 C58.32,317.13 60.08,316.58 62.27,316.22 C64.46,315.87 67.22,315.72 70.21,315.62 C73.20,315.52 76.41,315.72 80.21,315.62 C84.02,315.52 88.37,315.39 93.06,315.02 C97.75,314.65 103.70,314.05 108.35,313.41 C113.01,312.78 117.21,312.01 121.00,311.20 C124.79,310.40 128.78,309.44 131.10,308.59 C133.42,307.74 133.23,307.57 134.92,306.08 C136.62,304.59 139.34,301.83 141.30,299.65 C143.26,297.47 145.07,295.40 146.69,293.02 C148.31,290.64 149.76,287.93 151.00,285.39 C152.25,282.84 153.18,280.33 154.14,277.75 C155.11,275.18 155.94,272.31 156.79,269.92 C157.64,267.53 158.28,265.68 159.24,263.39 C160.20,261.10 161.43,259.27 162.57,256.16 C163.72,253.05 164.94,248.63 166.10,244.71 C167.26,240.79 168.41,236.32 169.54,232.66 C170.66,228.99 171.87,225.44 172.87,222.71 C173.87,219.98 174.67,217.64 175.52,216.28 C176.37,214.93 177.10,214.58 177.97,214.58 C178.83,214.58 179.91,215.30 180.71,216.28 C181.51,217.27 181.96,218.13 182.77,220.50 C183.59,222.88 184.68,226.98 185.62,230.55 C186.55,234.11 187.45,238.18 188.36,241.90 C189.28,245.61 190.21,249.51 191.11,252.84 C192.01,256.18 192.92,259.29 193.75,261.88 C194.59,264.48 195.18,266.24 196.11,268.41 C197.04,270.59 198.08,273.30 199.34,274.94 C200.60,276.58 202.06,277.89 203.66,278.26 C205.26,278.62 206.99,278.24 208.95,277.15 C210.91,276.06 213.46,273.74 215.42,271.73 C217.38,269.72 219.12,267.48 220.72,265.10 C222.32,262.72 223.99,259.79 225.03,257.47 C226.08,255.14 226.81,251.14 226.99,251.14 C227.17,251.14 226.53,254.95 226.11,257.47 C225.68,259.98 224.98,263.29 224.44,266.20 C223.90,269.12 223.40,272.38 222.87,274.94 C222.35,277.50 221.84,279.65 221.31,281.57 C220.77,283.50 220.44,284.43 219.64,286.49 C218.84,288.55 217.92,291.05 216.50,293.93 C215.08,296.80 213.07,301.04 211.11,303.77 C209.15,306.50 207.06,308.47 204.74,310.30 C202.41,312.12 199.69,313.61 197.19,314.72 C194.69,315.82 192.15,316.37 189.73,316.93 C187.32,317.48 185.03,318.05 182.67,318.03 C180.32,318.01 177.69,317.81 175.61,316.83 C173.54,315.84 171.66,314.78 170.22,312.11 C168.78,309.43 167.89,303.94 166.99,300.76 C166.09,297.57 165.53,295.95 164.83,293.02 C164.13,290.09 163.47,286.28 162.77,283.18 C162.07,280.08 161.25,277.77 160.61,274.44 C159.98,271.11 159.45,266.49 158.95,263.19 C158.44,259.89 158.11,257.50 157.57,254.65 C157.03,251.81 156.36,248.96 155.71,246.12 C155.06,243.27 154.34,239.75 153.65,237.58 C152.97,235.40 152.33,234.05 151.59,233.06 C150.86,232.07 150.06,231.65 149.24,231.65 C148.42,231.65 147.57,231.95 146.69,233.06 C145.81,234.16 144.88,236.10 143.95,238.28 C143.01,240.46 142.03,243.39 141.10,246.12 C140.17,248.84 139.27,251.61 138.36,254.65 C137.44,257.70 136.44,261.27 135.61,264.40 C134.78,267.53 134.06,270.47 133.36,273.44 C132.65,276.40 132.20,278.99 131.39,282.17 C130.59,285.35 129.45,289.74 128.55,292.52 C127.65,295.30 127.05,296.07 126.00,298.85 C124.96,301.63 123.53,306.38 122.28,309.19 C121.02,312.01 119.94,313.78 118.45,315.72 C116.97,317.66 115.46,319.34 113.35,320.84 C111.25,322.35 108.75,323.67 105.80,324.76 C102.86,325.85 100.51,326.40 95.71,327.37 C90.90,328.34 82.78,329.63 76.98,330.59 C71.18,331.54 64.64,332.41 60.90,333.10 C57.16,333.78 55.86,334.27 54.52,334.71 C53.18,335.14 53.14,335.54 52.86,335.71" fill="none" stroke="#484848" stroke-width="1.45" stroke-linejoin="round" stroke-linecap="round"/>
<path d="M52.96,335.14 C52.89,334.23 52.58,331.63 52.56,329.65 C52.55,327.66 52.38,325.28 52.86,323.25 C53.33,321.22 54.21,319.00 55.41,317.45 C56.60,315.90 58.32,314.74 60.02,313.96 C61.72,313.17 63.73,312.92 65.60,312.76 C67.48,312.59 69.38,312.72 71.29,312.96 C73.20,313.19 75.46,313.81 77.08,314.16 C78.69,314.50 78.87,314.77 81.00,315.05 C83.12,315.34 85.26,315.95 89.82,315.85 C94.38,315.75 103.16,314.95 108.35,314.45 C113.55,313.96 116.57,313.49 121.00,312.86 C125.43,312.22 130.82,311.39 134.92,310.66 C139.03,309.92 142.05,309.56 145.61,308.46 C149.17,307.36 153.44,305.51 156.30,304.06 C159.16,302.61 160.99,301.03 162.77,299.76 C164.55,298.50 165.56,297.92 166.99,296.47 C168.41,295.02 169.88,293.07 171.30,291.07 C172.72,289.07 174.10,286.66 175.52,284.47 C176.94,282.29 178.52,280.01 179.83,277.98 C181.14,275.95 181.92,273.66 183.36,272.28 C184.80,270.90 186.89,269.95 188.46,269.68 C190.03,269.42 191.32,269.77 192.77,270.68 C194.23,271.60 195.73,273.26 197.19,275.18 C198.64,277.09 200.06,280.13 201.50,282.18 C202.94,284.22 204.21,286.22 205.81,287.47 C207.42,288.72 209.33,289.49 211.11,289.67 C212.89,289.85 214.72,289.30 216.50,288.57 C218.28,287.84 220.05,286.59 221.80,285.27 C223.54,283.96 226.27,280.86 226.99,280.68 C227.71,280.49 226.44,282.31 226.11,284.17 C225.78,286.04 225.57,289.32 225.03,291.87 C224.49,294.42 223.95,296.93 222.87,299.46 C221.80,302.00 220.34,304.88 218.56,307.06 C216.78,309.24 214.67,311.01 212.19,312.56 C209.70,314.11 206.50,315.35 203.66,316.35 C200.81,317.35 197.81,318.00 195.13,318.55 C192.45,319.10 190.17,319.47 187.58,319.65 C184.98,319.83 182.22,319.88 179.54,319.65 C176.86,319.42 173.77,319.20 171.50,318.25 C169.23,317.30 167.46,315.40 165.91,313.96 C164.36,312.51 163.34,311.37 162.18,309.56 C161.02,307.74 159.93,305.43 158.95,303.06 C157.97,300.70 157.18,297.92 156.30,295.37 C155.42,292.82 154.63,289.85 153.65,287.77 C152.67,285.69 151.49,283.87 150.42,282.87 C149.34,281.88 148.34,281.59 147.18,281.78 C146.02,281.96 144.78,282.79 143.45,283.97 C142.13,285.16 140.66,287.06 139.24,288.87 C137.82,290.69 136.77,292.40 134.92,294.87 C133.08,297.33 130.37,301.10 128.16,303.66 C125.95,306.23 123.52,308.03 121.69,310.26 C119.86,312.49 119.40,315.07 117.18,317.05 C114.96,319.04 111.93,320.87 108.35,322.15 C104.77,323.43 100.93,323.62 95.71,324.75 C90.48,325.88 82.24,327.76 76.98,328.95 C71.72,330.13 67.61,330.98 64.13,331.84 C60.65,332.71 57.96,333.59 56.09,334.14 C54.23,334.69 53.48,334.98 52.96,335.14" fill="none" stroke="#f03838" stroke-width="1.45" stroke-linejoin="round" stroke-linecap="round"/>
<path d="M52.07,346.93 C52.09,345.72 52.09,341.67 52.17,339.64 C52.25,337.61 52.34,336.64 52.56,334.74 C52.79,332.84 53.15,329.93 53.54,328.25 C53.94,326.56 54.38,325.71 54.92,324.65 C55.46,323.58 55.75,322.97 56.78,321.85 C57.81,320.73 59.43,318.89 61.09,317.95 C62.76,317.02 64.69,316.64 66.78,316.25 C68.87,315.87 71.27,315.77 73.64,315.65 C76.01,315.54 77.32,315.75 81.00,315.55 C84.67,315.35 91.15,314.95 95.71,314.45 C100.26,313.96 104.14,313.26 108.35,312.56 C112.57,311.86 116.57,311.21 121.00,310.26 C125.43,309.31 131.54,307.79 134.92,306.86 C138.31,305.93 139.16,305.48 141.30,304.66 C143.44,303.84 145.63,302.96 147.77,301.96 C149.91,300.96 152.00,299.85 154.14,298.66 C156.28,297.48 158.47,296.23 160.61,294.87 C162.75,293.50 165.21,291.65 166.99,290.47 C168.77,289.29 169.88,288.49 171.30,287.77 C172.72,287.06 174.10,286.32 175.52,286.17 C176.94,286.02 178.39,286.24 179.83,286.87 C181.27,287.51 182.72,288.82 184.15,289.97 C185.57,291.12 186.76,292.59 188.36,293.77 C189.96,294.95 191.74,296.20 193.75,297.07 C195.76,297.93 198.23,298.56 200.42,298.96 C202.61,299.36 204.75,299.75 206.89,299.46 C209.03,299.18 211.14,298.35 213.27,297.27 C215.39,296.18 217.68,294.42 219.64,292.97 C221.60,291.52 223.81,289.70 225.03,288.57 C226.26,287.44 226.73,285.62 226.99,286.17 C227.25,286.72 226.93,289.65 226.60,291.87 C226.27,294.08 225.83,296.93 225.03,299.46 C224.23,302.00 223.22,304.88 221.80,307.06 C220.37,309.24 218.64,311.01 216.50,312.56 C214.36,314.11 211.63,315.35 208.95,316.35 C206.27,317.35 203.08,318.00 200.42,318.55 C197.76,319.10 194.85,319.24 192.97,319.65 C191.09,320.07 191.38,320.60 189.15,321.05 C186.91,321.50 182.76,322.13 179.54,322.35 C176.32,322.57 173.05,322.67 169.83,322.35 C166.61,322.03 162.88,321.27 160.22,320.45 C157.56,319.63 155.99,318.54 153.85,317.45 C151.71,316.37 149.40,314.70 147.38,313.96 C145.35,313.21 143.59,312.79 141.69,312.96 C139.79,313.12 138.14,313.77 136.00,314.95 C133.86,316.14 131.23,318.24 128.85,320.05 C126.46,321.87 124.06,324.28 121.69,325.85 C119.32,327.41 117.47,328.28 114.63,329.45 C111.79,330.61 108.22,331.76 104.63,332.84 C101.03,333.93 97.67,334.88 93.06,335.94 C88.45,337.01 81.80,338.22 76.98,339.24 C72.16,340.26 67.61,341.17 64.13,342.04 C60.65,342.90 58.10,343.62 56.09,344.44 C54.08,345.25 52.74,346.52 52.07,346.93" fill="none" stroke="#2a70e0" stroke-width="1.45" stroke-linejoin="round" stroke-linecap="round"/>
<line x1="44.1" y1="210.9" x2="63" y2="210.9" stroke="#484848" stroke-width="1.35"/>
<text x="65.9" y="213.8" font-size="8.4" fill="#1c1c1c" stroke="#1c1c1c" class="t">PtRu/GA</text>
<line x1="44.1" y1="221.5" x2="63" y2="221.5" stroke="#f03838" stroke-width="1.35"/>
<text x="65.9" y="224.0" font-size="8.4" fill="#1c1c1c" stroke="#1c1c1c" class="t">PtRu/GO</text>
<line x1="44.1" y1="232.0" x2="63" y2="232.0" stroke="#2a70e0" stroke-width="1.35"/>
<text x="65.9" y="234.6" font-size="8.4" fill="#1c1c1c" stroke="#1c1c1c" class="t">PtRu/C</text>
<rect x="312.0" y="216.0" width="28.30" height="146.60" fill="#ff0000"/>
<rect x="340.3" y="213.3" width="27.30" height="149.30" fill="#000000"/>
<rect x="381.5" y="319.5" width="27.60" height="43.10" fill="#ff0000"/>
<rect x="409.1" y="243.9" width="27.80" height="118.70" fill="#000000"/>
<rect x="450.1" y="350.5" width="27.80" height="12.10" fill="#ff0000"/>
<rect x="477.9" y="340.7" width="27.90" height="21.90" fill="#000000"/>
<line x1="305.0" y1="197.1" x2="513.8000000000001" y2="197.1" stroke="#888888" stroke-width="1.3"/>
<line x1="305.0" y1="362.6" x2="513.8000000000001" y2="362.6" stroke="#888888" stroke-width="1.3"/>
<line x1="305.6" y1="196.5" x2="305.6" y2="363.20000000000005" stroke="#686868" stroke-width="1.2"/>
<line x1="513.2" y1="196.5" x2="513.2" y2="363.20000000000005" stroke="#7a7a7a" stroke-width="1.2"/>
<line x1="305.6" y1="197.10" x2="302.6" y2="197.10" stroke="#6e6e6e" stroke-width="1"/>
<line x1="305.6" y1="215.49" x2="302.6" y2="215.49" stroke="#6e6e6e" stroke-width="1"/>
<line x1="305.6" y1="233.88" x2="302.6" y2="233.88" stroke="#6e6e6e" stroke-width="1"/>
<line x1="305.6" y1="252.27" x2="302.6" y2="252.27" stroke="#6e6e6e" stroke-width="1"/>
<line x1="305.6" y1="270.66" x2="302.6" y2="270.66" stroke="#6e6e6e" stroke-width="1"/>
<line x1="305.6" y1="289.04" x2="302.6" y2="289.04" stroke="#6e6e6e" stroke-width="1"/>
<line x1="305.6" y1="307.43" x2="302.6" y2="307.43" stroke="#6e6e6e" stroke-width="1"/>
<line x1="305.6" y1="325.82" x2="302.6" y2="325.82" stroke="#6e6e6e" stroke-width="1"/>
<line x1="305.6" y1="344.21" x2="302.6" y2="344.21" stroke="#6e6e6e" stroke-width="1"/>
<line x1="305.6" y1="362.60" x2="302.6" y2="362.60" stroke="#6e6e6e" stroke-width="1"/>
<line x1="305.6" y1="206.29" x2="303.90000000000003" y2="206.29" stroke="#6e6e6e" stroke-width="1"/>
<line x1="305.6" y1="224.68" x2="303.90000000000003" y2="224.68" stroke="#6e6e6e" stroke-width="1"/>
<line x1="305.6" y1="243.07" x2="303.90000000000003" y2="243.07" stroke="#6e6e6e" stroke-width="1"/>
<line x1="305.6" y1="261.46" x2="303.90000000000003" y2="261.46" stroke="#6e6e6e" stroke-width="1"/>
<line x1="305.6" y1="279.85" x2="303.90000000000003" y2="279.85" stroke="#6e6e6e" stroke-width="1"/>
<line x1="305.6" y1="298.24" x2="303.90000000000003" y2="298.24" stroke="#6e6e6e" stroke-width="1"/>
<line x1="305.6" y1="316.63" x2="303.90000000000003" y2="316.63" stroke="#6e6e6e" stroke-width="1"/>
<line x1="305.6" y1="335.02" x2="303.90000000000003" y2="335.02" stroke="#6e6e6e" stroke-width="1"/>
<line x1="305.6" y1="353.41" x2="303.90000000000003" y2="353.41" stroke="#6e6e6e" stroke-width="1"/>
<text x="299.6" y="199.55" font-size="6.9" text-anchor="end" fill="#3a3a3a" stroke="#3a3a3a" class="k">240</text>
<text x="299.6" y="217.94" font-size="6.9" text-anchor="end" fill="#3a3a3a" stroke="#3a3a3a" class="k">220</text>
<text x="299.6" y="236.33" font-size="6.9" text-anchor="end" fill="#3a3a3a" stroke="#3a3a3a" class="k">200</text>
<text x="299.6" y="254.72" font-size="6.9" text-anchor="end" fill="#3a3a3a" stroke="#3a3a3a" class="k">180</text>
<text x="299.6" y="273.11" font-size="6.9" text-anchor="end" fill="#3a3a3a" stroke="#3a3a3a" class="k">160</text>
<text x="299.6" y="291.49" font-size="6.9" text-anchor="end" fill="#3a3a3a" stroke="#3a3a3a" class="k">140</text>
<text x="299.6" y="309.88" font-size="6.9" text-anchor="end" fill="#3a3a3a" stroke="#3a3a3a" class="k">120</text>
<text x="299.6" y="328.27" font-size="6.9" text-anchor="end" fill="#3a3a3a" stroke="#3a3a3a" class="k">100</text>
<text x="299.6" y="346.66" font-size="6.9" text-anchor="end" fill="#3a3a3a" stroke="#3a3a3a" class="k">80</text>
<text x="299.6" y="365.05" font-size="6.9" text-anchor="end" fill="#3a3a3a" stroke="#3a3a3a" class="k">60</text>
<line x1="513.2" y1="197.10" x2="516.2" y2="197.10" stroke="#6e6e6e" stroke-width="1"/>
<line x1="513.2" y1="222.56" x2="516.2" y2="222.56" stroke="#6e6e6e" stroke-width="1"/>
<line x1="513.2" y1="248.02" x2="516.2" y2="248.02" stroke="#6e6e6e" stroke-width="1"/>
<line x1="513.2" y1="273.48" x2="516.2" y2="273.48" stroke="#6e6e6e" stroke-width="1"/>
<line x1="513.2" y1="298.95" x2="516.2" y2="298.95" stroke="#6e6e6e" stroke-width="1"/>
<line x1="513.2" y1="324.41" x2="516.2" y2="324.41" stroke="#6e6e6e" stroke-width="1"/>
<line x1="513.2" y1="349.87" x2="516.2" y2="349.87" stroke="#6e6e6e" stroke-width="1"/>
<line x1="513.2" y1="209.83" x2="514.9000000000001" y2="209.83" stroke="#6e6e6e" stroke-width="1"/>
<line x1="513.2" y1="235.29" x2="514.9000000000001" y2="235.29" stroke="#6e6e6e" stroke-width="1"/>
<line x1="513.2" y1="260.75" x2="514.9000000000001" y2="260.75" stroke="#6e6e6e" stroke-width="1"/>
<line x1="513.2" y1="286.22" x2="514.9000000000001" y2="286.22" stroke="#6e6e6e" stroke-width="1"/>
<line x1="513.2" y1="311.68" x2="514.9000000000001" y2="311.68" stroke="#6e6e6e" stroke-width="1"/>
<line x1="513.2" y1="337.14" x2="514.9000000000001" y2="337.14" stroke="#6e6e6e" stroke-width="1"/>
<line x1="513.2" y1="362.60" x2="514.9000000000001" y2="362.60" stroke="#6e6e6e" stroke-width="1"/>
<text x="518.0" y="199.55" font-size="6.9" text-anchor="start" fill="#3a3a3a" stroke="#3a3a3a" class="k">0.30</text>
<text x="518.0" y="225.01" font-size="6.9" text-anchor="start" fill="#3a3a3a" stroke="#3a3a3a" class="k">0.28</text>
<text x="518.0" y="250.47" font-size="6.9" text-anchor="start" fill="#3a3a3a" stroke="#3a3a3a" class="k">0.26</text>
<text x="518.0" y="275.93" font-size="6.9" text-anchor="start" fill="#3a3a3a" stroke="#3a3a3a" class="k">0.24</text>
<text x="518.0" y="301.40" font-size="6.9" text-anchor="start" fill="#3a3a3a" stroke="#3a3a3a" class="k">0.22</text>
<text x="518.0" y="326.86" font-size="6.9" text-anchor="start" fill="#3a3a3a" stroke="#3a3a3a" class="k">0.20</text>
<text x="518.0" y="352.32" font-size="6.9" text-anchor="start" fill="#3a3a3a" stroke="#3a3a3a" class="k">0.18</text>
<line x1="340.20" y1="362.6" x2="340.20" y2="365.6" stroke="#6e6e6e" stroke-width="1"/>
<line x1="409.40" y1="362.6" x2="409.40" y2="365.6" stroke="#6e6e6e" stroke-width="1"/>
<line x1="478.60" y1="362.6" x2="478.60" y2="365.6" stroke="#6e6e6e" stroke-width="1"/>
<line x1="374.80" y1="362.6" x2="374.80" y2="364.3" stroke="#6e6e6e" stroke-width="1"/>
<line x1="444.00" y1="362.6" x2="444.00" y2="364.3" stroke="#6e6e6e" stroke-width="1"/>
<text x="339.9" y="373.8" font-size="7.1" text-anchor="middle" fill="#3a3a3a" stroke="#3a3a3a" class="k">PtRu/GA</text>
<text x="409.1" y="373.8" font-size="7.1" text-anchor="middle" fill="#3a3a3a" stroke="#3a3a3a" class="k">PtRu/GO</text>
<text x="477.9" y="373.8" font-size="7.1" text-anchor="middle" fill="#3a3a3a" stroke="#3a3a3a" class="k">PtRu/C</text>
<text transform="translate(282.4,323.8) rotate(-90)" font-size="8.6" fill="#222" stroke="#222" class="h">Mass activity (mAmg<tspan font-size="5.3" dy="-3">-1</tspan><tspan dy="3">)</tspan></text>
<text transform="translate(542.3,327.6) rotate(-90)" font-size="8.55" fill="#222" stroke="#222" class="h">Specific activity (mAcm<tspan font-size="5.4" dy="-3">-2</tspan><tspan dy="3">)</tspan></text>
<text x="253" y="207.0" font-size="12.0" textLength="13.8" lengthAdjust="spacingAndGlyphs" fill="#1c1c1c" stroke="#1c1c1c" class="t">(d)</text>
<rect x="455.6" y="204.6" width="52.7" height="12.8" fill="#fff" stroke="#7a7a7a" stroke-width="0.9"/>
<rect x="456.1" y="205.0" width="12.5" height="6.0" fill="#ff0000"/>
<rect x="456.1" y="211.6" width="12.5" height="5.6" fill="#000"/>
<text x="470" y="209.8" font-size="5.4" fill="#222" stroke="#222" class="k">Mass activity</text>
<text x="470" y="215.9" font-size="5.4" fill="#222" stroke="#222" class="k">Specific activity</text>
</svg>
</body></html>
